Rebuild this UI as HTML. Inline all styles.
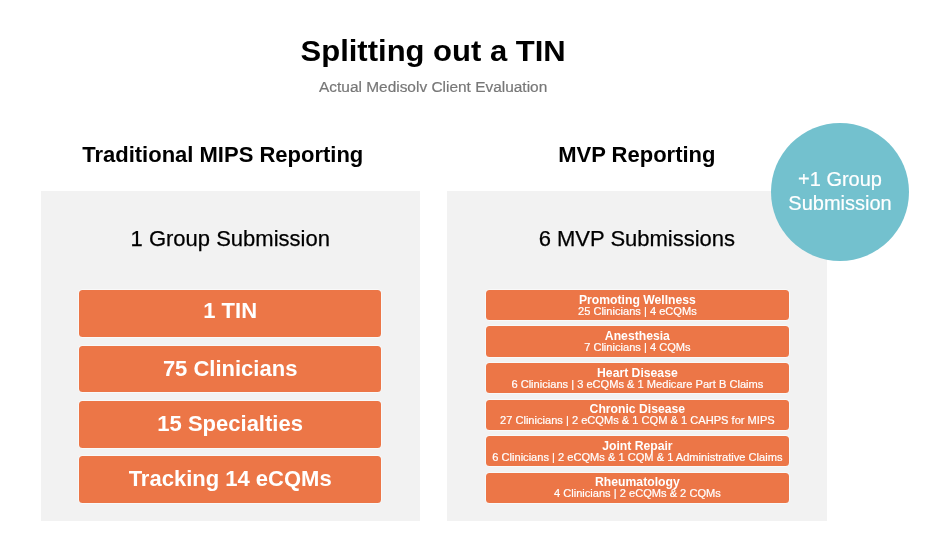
<!DOCTYPE html>
<html lang="en">
<head>
<meta charset="utf-8">
<title>Splitting out a TIN</title>
<style>
html,body{margin:0;padding:0;background:#fff;}
body{width:936px;height:546px;position:relative;overflow:hidden;font-family:"Liberation Sans",Arial,Helvetica,sans-serif;color:#000;}
.abs{position:absolute;white-space:nowrap;}
.c{text-align:center;}
#title{left:0;width:866.25px;top:33.4px;font-size:31px;line-height:36px;font-weight:bold;transform:scaleY(0.96);transform-origin:50% 28px;}
#sub{left:0;width:866.25px;top:77.6px;font-size:15.45px;line-height:18px;color:#777;-webkit-text-stroke:0.2px #777;}
.h{font-weight:bold;font-size:22px;line-height:26px;top:141.9px;}
#h1{left:41px;width:363.5px;}
#h2{left:447px;width:379.75px;}
.panel{position:absolute;background:#f2f2f2;top:190.5px;height:330.25px;}
#p1{left:41px;width:378.5px;}
#p2{left:447px;width:379.75px;}
.ph{-webkit-text-stroke:0.25px #000;font-size:22px;line-height:26px;top:226.4px;}
.btn{position:absolute;background:#ec7647;border-radius:3.5px;color:#fff;box-shadow:0 0 0 0.8px rgba(255,255,255,.7);}
.b1{left:79.4px;width:301.5px;height:46.8px;font-weight:bold;font-size:22px;line-height:46.8px;text-align:center;white-space:nowrap;}
.b2{left:486.25px;width:302.25px;height:30.3px;text-align:center;white-space:nowrap;}
.b2 b{position:absolute;left:0;right:0;top:3.5px;font-size:12.2px;line-height:13px;}
.b2 span{position:absolute;left:0;right:0;top:14.6px;font-size:11.1px;-webkit-text-stroke:0.2px #fff;line-height:13px;}
#circle{position:absolute;left:770.8px;top:122.8px;width:138.4px;height:138.4px;border-radius:50%;background:#73c1ce;}
#ct{left:770.8px;width:138.4px;top:166.6px;font-size:20px;line-height:24px;color:#fff;-webkit-text-stroke:0.2px #fff;}
</style>
</head>
<body>
<div id="title" class="abs c">Splitting out a TIN</div>
<div id="sub" class="abs c">Actual Medisolv Client Evaluation</div>

<div id="h1" class="abs c h">Traditional MIPS Reporting</div>
<div id="h2" class="abs c h">MVP Reporting</div>

<div id="p1" class="panel"></div>
<div id="p2" class="panel"></div>

<div id="ph1" class="abs c ph" style="left:41px;width:378.5px;">1 Group Submission</div>
<div id="ph2" class="abs c ph" style="left:447px;width:379.75px;">6 MVP Submissions</div>

<div class="btn b1" style="top:290px;line-height:42.2px">1 TIN</div>
<div class="btn b1" style="top:345.6px">75 Clinicians</div>
<div class="btn b1" style="top:400.9px">15 Specialties</div>
<div class="btn b1" style="top:456px">Tracking 14 eCQMs</div>

<div class="btn b2" style="top:290px"><b>Promoting Wellness</b><span>25 Clinicians | 4 eCQMs</span></div>
<div class="btn b2" style="top:326.4px"><b>Anesthesia</b><span>7 Clinicians | 4 CQMs</span></div>
<div class="btn b2" style="top:363px"><b>Heart Disease</b><span>6 Clinicians | 3 eCQMs &amp; 1 Medicare Part B Claims</span></div>
<div class="btn b2" style="top:399.6px"><b>Chronic Disease</b><span>27 Clinicians | 2 eCQMs &amp; 1 CQM &amp; 1 CAHPS for MIPS</span></div>
<div class="btn b2" style="top:436.2px"><b>Joint Repair</b><span>6 Clinicians | 2 eCQMs &amp; 1 CQM &amp; 1 Administrative Claims</span></div>
<div class="btn b2" style="top:472.7px"><b>Rheumatology</b><span>4 Clinicians | 2 eCQMs &amp; 2 CQMs</span></div>

<div id="circle"></div>
<div id="ct" class="abs c">+1 Group<br>Submission</div>
</body>
</html>
